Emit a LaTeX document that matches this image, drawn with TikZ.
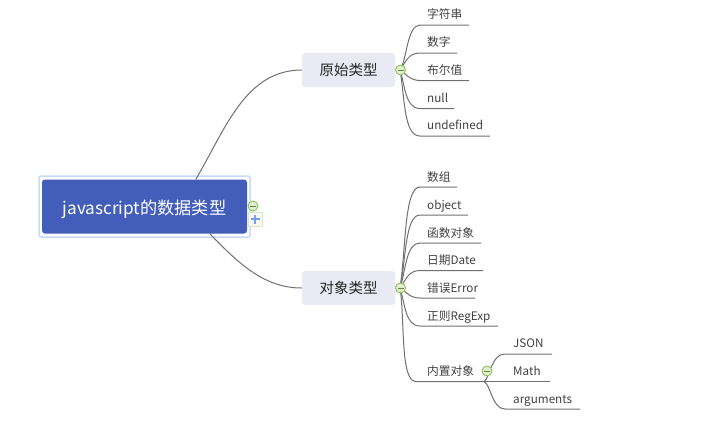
\documentclass[tikz,border=0pt]{standalone}
\usepackage{fontspec}
\setmainfont{Noto Sans CJK SC}
\usetikzlibrary{arrows}

\definecolor{rootblue}{HTML}{425DBA}
\definecolor{selblue}{HTML}{C5DBF7}
\definecolor{topicbg}{HTML}{E9EAF3}
\definecolor{branchgray}{HTML}{707070}
\definecolor{togglegreen}{HTML}{8CC152}
\definecolor{plusblue}{HTML}{7E9CF2}

\tikzset{
  rootbox/.style={fill=rootblue,rounded corners=3pt,minimum width=205pt,minimum height=54pt,text=white,font=\fontsize{17.2}{20}\selectfont,inner sep=0pt,text height=15pt,text depth=0pt},
  topicbox/.style={fill=topicbg,rounded corners=3pt,minimum width=93pt,minimum height=34pt,text=black!85,font=\fontsize{14.5}{17}\selectfont,inner sep=0pt,text height=11pt,text depth=0pt},
  leaf/.style={anchor=west,inner sep=0pt,text=black!75,font=\fontsize{11.7}{14}\selectfont,text height=11pt,text depth=2pt},
  branch/.style={draw=branchgray,line width=1pt},
  toggle/.style={circle,draw=togglegreen,fill=togglegreen!25,line width=0.9pt,minimum size=10pt,inner sep=0pt,path picture={\draw[togglegreen!70!black,line width=0.9pt] ([xshift=-3pt]path picture bounding box.center)--([xshift=3pt]path picture bounding box.center);}},
  plusbox/.style={draw=togglegreen!35,fill=togglegreen!8,minimum size=14pt,inner sep=0pt,path picture={\draw[plusblue,line width=1.8pt] ([xshift=-4.5pt]path picture bounding box.center)--([xshift=4.5pt]path picture bounding box.center) ([yshift=-4.5pt]path picture bounding box.center)--([yshift=4.5pt]path picture bounding box.center);}},
}

\begin{document}
\begin{tikzpicture}[x=1pt,y=-1pt]
\useasboundingbox (0,0) rectangle (720,421);

\draw [draw=selblue,fill=white,line width=1.5pt,rounded corners=2pt] (39,176) rectangle (250,237);

\node [rootbox] (root) at (144.5,206.5) {javascript的数据类型};
\node [topicbox] (prim) at (348.5,70) {原始类型};
\node [topicbox] (obj) at (348.5,288) {对象类型};

\draw [branch] (root.north west) ++(154,0) .. controls (225,130) and (245,70) .. (prim.west);
\draw [branch] (root.south west) ++(168,0) .. controls (240,265) and (265,288) .. (obj.west);

\node [leaf] (str) at (427,14) {字符串};
\node [leaf] (num) at (427,42) {数字};
\node [leaf] (bool) at (427,70) {布尔值};
\node [leaf] (null) at (427,97.5) {null};
\node [leaf] (undef) at (427,125) {undefined};

\coordinate (strE) at (469,25);
\coordinate (numE) at (457,53);
\coordinate (boolE) at (469,80.5);
\coordinate (nullE) at (454,108.5);
\coordinate (undefE) at (490,136);

\coordinate (primS) at (400,70);
\draw [branch] (primS) .. controls (407,60) and (407,25) .. (420,25) -- (strE);
\draw [branch] (primS) .. controls (406,62) and (408,53) .. (420,53) -- (numE);
\draw [branch] (primS) .. controls (406,74) and (410,80.5) .. (420,80.5) -- (boolE);
\draw [branch] (primS) .. controls (405,85) and (405,108.5) .. (420,108.5) -- (nullE);
\draw [branch] (primS) .. controls (405,100) and (404,136) .. (420,136) -- (undefE);

\node [leaf] (arr) at (427,177) {数组};
\node [leaf] (objc) at (427,204.5) {object};
\node [leaf] (func) at (427,232.5) {函数对象};
\node [leaf] (date) at (427,260) {日期Date};
\node [leaf] (err) at (427,288) {错误Error};
\node [leaf] (reg) at (427,315.5) {正则RegExp};
\node [leaf] (inner) at (427,371) {内置对象};

\coordinate (arrE) at (457,187);
\coordinate (objcE) at (468,215);
\coordinate (funcE) at (481,243);
\coordinate (dateE) at (483,270.5);
\coordinate (errE) at (475,298);
\coordinate (regE) at (498,326);
\coordinate (innerE) at (484,381.5);

\coordinate (objS) at (400,288);
\draw [branch] (objS) .. controls (406,250) and (404,187) .. (420,187) -- (arrE);
\draw [branch] (objS) .. controls (406,260) and (405,215) .. (420,215) -- (objcE);
\draw [branch] (objS) .. controls (406,270) and (406,243) .. (420,243) -- (funcE);
\draw [branch] (objS) .. controls (406,280) and (408,270.5) .. (420,270.5) -- (dateE);
\draw [branch] (objS) .. controls (406,292) and (410,298) .. (420,298) -- (errE);
\draw [branch] (objS) .. controls (405,303) and (405,326) .. (420,326) -- (regE);
\draw [branch] (objS) .. controls (405,320) and (400,381.5) .. (416,381.5) -- (innerE);

\node [leaf] (json) at (513,343) {JSON};
\node [leaf] (math) at (513,371) {Math};
\node [leaf] (args) at (513,399) {arguments};

\coordinate (jsonE) at (552,354);
\coordinate (mathE) at (550,381.5);
\coordinate (argsE) at (580,409);

\draw [branch] (innerE) .. controls (490,378) and (491,354) .. (505,354) -- (jsonE);
\draw [branch] (innerE) -- (mathE);
\draw [branch] (innerE) .. controls (491,385) and (492,409) .. (505,409) -- (argsE);

\node [toggle] (togP) at (400.5,70) {};
\node [toggle] (togO) at (400.5,288) {};
\node [toggle] (togI) at (487,371) {};

\node [plusbox] (plus) at (255,219) {};
\node [toggle] (togR) at (253,206) {};

\end{tikzpicture}
\end{document}
